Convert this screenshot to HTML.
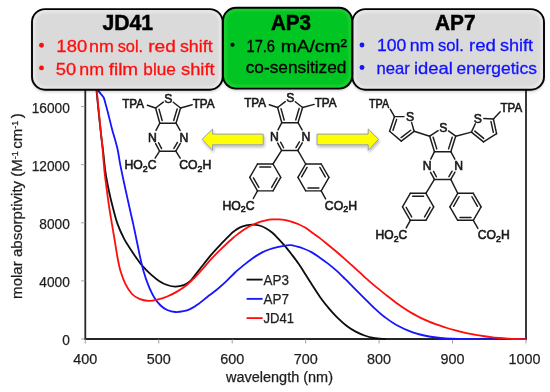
<!DOCTYPE html>
<html lang="en"><head><meta charset="utf-8"><title>Molar absorptivity of AP3, AP7 and JD41</title>
<style>html,body{margin:0;padding:0;background:#fff;}svg{display:block;}text{font-family:'Liberation Sans', Arial, sans-serif;}</style>
</head><body>
<svg width="550" height="392" viewBox="0 0 550 392">
<defs>
<filter id="sh" x="-20%" y="-20%" width="140%" height="150%"><feGaussianBlur in="SourceAlpha" stdDeviation="1.4"/><feOffset dx="0.6" dy="1.6"/><feComponentTransfer><feFuncA type="linear" slope="0.28"/></feComponentTransfer><feMerge><feMergeNode/><feMergeNode in="SourceGraphic"/></feMerge></filter>
<filter id="sh2" x="-5%" y="-10%" width="110%" height="130%"><feGaussianBlur in="SourceAlpha" stdDeviation="1.6"/><feOffset dx="0" dy="1.8"/><feComponentTransfer><feFuncA type="linear" slope="0.22"/></feComponentTransfer><feMerge><feMergeNode/><feMergeNode in="SourceGraphic"/></feMerge></filter>
<filter id="soft"><feGaussianBlur stdDeviation="0.35"/></filter>
<filter id="glow" x="-5%" y="-5%" width="110%" height="110%"><feGaussianBlur stdDeviation="1.3"/></filter>
<clipPath id="plot"><rect x="85" y="60" width="441.5" height="280"/></clipPath>
<clipPath id="cg1"><rect x="32" y="9.1" width="190.7" height="80.6" rx="13" ry="13"/></clipPath>
<clipPath id="cg2"><rect x="223" y="7.8" width="129.2" height="80.8" rx="13" ry="13"/></clipPath>
<clipPath id="cg3"><rect x="352.4" y="9.1" width="191.6" height="80.6" rx="13" ry="13"/></clipPath>
</defs>
<rect width="550" height="392" fill="#fff"/>
<g filter="url(#soft)">
<g stroke="#262626" stroke-width="1.8" fill="none">
<line x1="85.30" y1="60" x2="85.30" y2="339.90"/>
<line x1="84.40" y1="339.00" x2="526.90" y2="339.00"/>
<line x1="526.00" y1="60" x2="526.00" y2="339.90"/>
</g>
<g stroke="#8a8a8a" stroke-width="0.8">
<line x1="81.10" y1="339.00" x2="85.30" y2="339.00"/>
<line x1="81.10" y1="280.90" x2="85.30" y2="280.90"/>
<line x1="81.10" y1="222.80" x2="85.30" y2="222.80"/>
<line x1="81.10" y1="164.70" x2="85.30" y2="164.70"/>
<line x1="81.10" y1="106.60" x2="85.30" y2="106.60"/>
<line x1="85.30" y1="339.00" x2="85.30" y2="343.50"/>
<line x1="158.75" y1="339.00" x2="158.75" y2="343.50"/>
<line x1="232.20" y1="339.00" x2="232.20" y2="343.50"/>
<line x1="305.65" y1="339.00" x2="305.65" y2="343.50"/>
<line x1="379.10" y1="339.00" x2="379.10" y2="343.50"/>
<line x1="452.55" y1="339.00" x2="452.55" y2="343.50"/>
<line x1="526.00" y1="339.00" x2="526.00" y2="343.50"/>
</g>
<text x="62.18" y="345.10" font-size="15.30" text-anchor="start" fill="#1e1e1e" font-weight="normal" stroke="#1e1e1e" stroke-width="0.25" textLength="7.62" lengthAdjust="spacingAndGlyphs" >0</text>
<text x="39.32" y="287.00" font-size="15.30" text-anchor="start" fill="#1e1e1e" font-weight="normal" stroke="#1e1e1e" stroke-width="0.25" textLength="30.48" lengthAdjust="spacingAndGlyphs" >4000</text>
<text x="39.32" y="228.90" font-size="15.30" text-anchor="start" fill="#1e1e1e" font-weight="normal" stroke="#1e1e1e" stroke-width="0.25" textLength="30.48" lengthAdjust="spacingAndGlyphs" >8000</text>
<text x="31.70" y="170.80" font-size="15.30" text-anchor="start" fill="#1e1e1e" font-weight="normal" stroke="#1e1e1e" stroke-width="0.25" textLength="38.10" lengthAdjust="spacingAndGlyphs" >12000</text>
<text x="31.70" y="112.70" font-size="15.30" text-anchor="start" fill="#1e1e1e" font-weight="normal" stroke="#1e1e1e" stroke-width="0.25" textLength="38.10" lengthAdjust="spacingAndGlyphs" >16000</text>
<text x="73.30" y="364.30" font-size="15.30" text-anchor="start" fill="#1e1e1e" font-weight="normal" stroke="#1e1e1e" stroke-width="0.25" textLength="24.00" lengthAdjust="spacingAndGlyphs" >400</text>
<text x="146.75" y="364.30" font-size="15.30" text-anchor="start" fill="#1e1e1e" font-weight="normal" stroke="#1e1e1e" stroke-width="0.25" textLength="24.00" lengthAdjust="spacingAndGlyphs" >500</text>
<text x="220.20" y="364.30" font-size="15.30" text-anchor="start" fill="#1e1e1e" font-weight="normal" stroke="#1e1e1e" stroke-width="0.25" textLength="24.00" lengthAdjust="spacingAndGlyphs" >600</text>
<text x="293.65" y="364.30" font-size="15.30" text-anchor="start" fill="#1e1e1e" font-weight="normal" stroke="#1e1e1e" stroke-width="0.25" textLength="24.00" lengthAdjust="spacingAndGlyphs" >700</text>
<text x="367.10" y="364.30" font-size="15.30" text-anchor="start" fill="#1e1e1e" font-weight="normal" stroke="#1e1e1e" stroke-width="0.25" textLength="24.00" lengthAdjust="spacingAndGlyphs" >800</text>
<text x="440.55" y="364.30" font-size="15.30" text-anchor="start" fill="#1e1e1e" font-weight="normal" stroke="#1e1e1e" stroke-width="0.25" textLength="24.00" lengthAdjust="spacingAndGlyphs" >900</text>
<text x="508.50" y="364.30" font-size="15.30" text-anchor="start" fill="#1e1e1e" font-weight="normal" stroke="#1e1e1e" stroke-width="0.25" textLength="32.00" lengthAdjust="spacingAndGlyphs" >1000</text>
<text x="226.00" y="382.00" font-size="14.00" text-anchor="start" fill="#1e1e1e" font-weight="normal" stroke="#1e1e1e" stroke-width="0.25" textLength="107.00" lengthAdjust="spacingAndGlyphs" >wavelength (nm)</text>
<g transform="translate(22.1 298.9) rotate(-90)"><text x="0.00" y="0.00" font-size="14.30" text-anchor="start" fill="#1e1e1e" font-weight="normal" stroke="#1e1e1e" stroke-width="0.25" textLength="185.60" lengthAdjust="spacingAndGlyphs" >molar absorptivity (M<tspan font-size="8.6" dy="-4.4">-1</tspan><tspan dy="4.4" dx="2.2">cm</tspan><tspan font-size="8.6" dy="-4.4">-1</tspan><tspan dy="4.4" dx="2.2">)</tspan></text></g>
<g clip-path="url(#plot)" fill="none" stroke-linejoin="round" stroke-linecap="round">
<path d="M93.60 60.00 C94.08 65.08 95.65 81.75 96.50 90.50 C97.35 99.25 97.90 104.75 98.70 112.50 C99.50 120.25 100.58 130.75 101.30 137.00 C102.02 143.25 102.30 144.08 103.00 150.00 C103.70 155.92 104.47 165.47 105.50 172.50 C106.53 179.53 107.95 186.28 109.20 192.20 C110.45 198.12 111.58 202.63 113.00 208.00 C114.42 213.37 115.82 219.22 117.70 224.40 C119.58 229.58 121.83 234.47 124.30 239.10 C126.77 243.73 130.30 248.80 132.50 252.20 C134.70 255.60 135.82 257.17 137.50 259.50 C139.18 261.83 140.38 263.72 142.60 266.20 C144.82 268.68 148.07 271.95 150.80 274.40 C153.53 276.85 156.27 279.13 159.00 280.90 C161.73 282.67 164.47 284.05 167.20 285.00 C169.93 285.95 172.67 286.57 175.40 286.60 C178.13 286.63 181.15 286.08 183.60 285.20 C186.05 284.32 188.28 282.87 190.10 281.30 C191.92 279.73 192.85 277.87 194.50 275.80 C196.15 273.73 197.27 272.35 200.00 268.90 C202.73 265.45 207.27 259.38 210.90 255.10 C214.53 250.82 218.53 246.67 221.80 243.20 C225.07 239.73 228.30 236.40 230.50 234.30 C232.70 232.20 233.48 231.72 235.00 230.60 C236.52 229.48 237.73 228.47 239.60 227.60 C241.47 226.73 244.02 225.90 246.20 225.40 C248.38 224.90 250.52 224.58 252.70 224.60 C254.88 224.62 257.12 224.90 259.30 225.50 C261.48 226.10 263.62 226.98 265.80 228.20 C267.98 229.42 270.22 230.93 272.40 232.80 C274.58 234.67 276.72 237.08 278.90 239.40 C281.08 241.72 283.32 244.12 285.50 246.70 C287.68 249.28 289.82 252.07 292.00 254.90 C294.18 257.73 296.77 261.12 298.60 263.70 C300.43 266.28 300.92 267.13 303.00 270.40 C305.08 273.67 308.27 278.88 311.10 283.30 C313.93 287.72 317.03 292.72 320.00 296.90 C322.97 301.08 325.92 304.85 328.90 308.40 C331.88 311.95 334.92 315.27 337.90 318.20 C340.88 321.13 343.83 323.77 346.80 326.00 C349.77 328.23 352.73 330.02 355.70 331.60 C358.67 333.18 361.62 334.45 364.60 335.50 C367.58 336.55 370.20 337.32 373.60 337.90 C377.00 338.48 383.10 338.82 385.00 339.00" stroke="#0a0a0a" stroke-width="1.8"/>
<path d="M93.00 84.50 C93.43 85.00 94.73 86.48 95.60 87.50 C96.47 88.52 97.32 89.52 98.20 90.60 C99.08 91.68 100.05 92.93 100.90 94.00 C101.75 95.07 102.77 96.23 103.30 97.00 C103.83 97.77 103.78 97.67 104.10 98.60 C104.42 99.53 104.57 100.28 105.20 102.60 C105.83 104.92 106.77 108.12 107.90 112.50 C109.03 116.88 110.43 122.98 112.00 128.90 C113.57 134.82 115.93 142.08 117.30 148.00 C118.67 153.92 119.03 158.40 120.20 164.40 C121.37 170.40 122.73 176.73 124.30 184.00 C125.87 191.27 128.10 201.27 129.60 208.00 C131.10 214.73 132.00 218.40 133.30 224.40 C134.60 230.40 136.22 238.33 137.40 244.00 C138.58 249.67 139.38 253.88 140.40 258.40 C141.42 262.92 142.25 266.80 143.50 271.10 C144.75 275.40 146.13 279.83 147.90 284.20 C149.67 288.57 151.98 293.75 154.10 297.30 C156.22 300.85 158.42 303.38 160.60 305.50 C162.78 307.62 164.73 308.92 167.20 310.00 C169.67 311.08 172.67 311.80 175.40 312.00 C178.13 312.20 181.15 311.68 183.60 311.20 C186.05 310.72 187.63 310.30 190.10 309.10 C192.57 307.90 195.50 306.05 198.40 304.00 C201.30 301.95 204.45 299.17 207.50 296.80 C210.55 294.43 213.63 292.32 216.70 289.80 C219.77 287.28 222.83 284.58 225.90 281.70 C228.97 278.82 232.02 275.35 235.10 272.50 C238.18 269.65 241.47 266.98 244.40 264.60 C247.33 262.22 249.95 260.12 252.70 258.20 C255.45 256.28 258.17 254.55 260.90 253.10 C263.63 251.65 266.37 250.48 269.10 249.50 C271.83 248.52 274.57 247.85 277.30 247.20 C280.03 246.55 283.32 245.95 285.50 245.60 C287.68 245.25 288.57 244.97 290.40 245.10 C292.23 245.23 294.35 245.83 296.50 246.40 C298.65 246.97 300.82 247.55 303.30 248.50 C305.78 249.45 308.70 250.62 311.40 252.10 C314.10 253.58 316.78 255.52 319.50 257.40 C322.22 259.28 325.02 261.32 327.70 263.40 C330.38 265.48 332.72 267.32 335.60 269.90 C338.48 272.48 341.65 275.62 345.00 278.90 C348.35 282.18 352.13 286.02 355.70 289.60 C359.27 293.18 363.12 297.13 366.40 300.40 C369.68 303.67 372.30 306.38 375.40 309.20 C378.50 312.02 381.50 314.67 385.00 317.30 C388.50 319.93 391.78 322.48 396.40 325.00 C401.02 327.52 407.25 330.48 412.70 332.40 C418.15 334.32 423.63 335.48 429.10 336.50 C434.57 337.52 440.35 338.08 445.50 338.50 C450.65 338.92 450.92 338.90 460.00 339.00 C469.08 339.10 488.95 339.08 500.00 339.10 C511.05 339.12 521.92 339.10 526.30 339.10" stroke="#1414ff" stroke-width="1.8"/>
<path d="M94.20 60.00 C94.63 65.08 96.02 81.75 96.80 90.50 C97.58 99.25 98.13 104.73 98.90 112.50 C99.67 120.27 100.80 131.18 101.40 137.10 C102.00 143.02 101.97 142.10 102.50 148.00 C103.03 153.90 103.83 165.13 104.60 172.50 C105.37 179.87 106.32 186.28 107.10 192.20 C107.88 198.12 108.48 202.63 109.30 208.00 C110.12 213.37 111.00 218.40 112.00 224.40 C113.00 230.40 114.37 238.40 115.30 244.00 C116.23 249.60 116.73 253.48 117.60 258.00 C118.47 262.52 119.18 266.73 120.50 271.10 C121.82 275.47 123.58 280.38 125.50 284.20 C127.42 288.02 129.68 291.55 132.00 294.00 C134.32 296.45 136.67 297.75 139.40 298.90 C142.13 300.05 145.40 300.77 148.40 300.90 C151.40 301.03 154.27 300.43 157.40 299.70 C160.53 298.97 163.93 297.85 167.20 296.50 C170.47 295.15 173.73 293.52 177.00 291.60 C180.27 289.68 183.88 287.30 186.80 285.00 C189.72 282.70 191.93 280.38 194.50 277.80 C197.07 275.22 199.47 272.58 202.20 269.50 C204.93 266.42 207.63 262.83 210.90 259.30 C214.17 255.77 218.17 251.82 221.80 248.30 C225.43 244.78 229.73 240.78 232.70 238.20 C235.67 235.62 237.35 234.47 239.60 232.80 C241.85 231.13 244.02 229.53 246.20 228.20 C248.38 226.87 250.52 225.82 252.70 224.80 C254.88 223.78 257.12 222.85 259.30 222.10 C261.48 221.35 263.62 220.75 265.80 220.30 C267.98 219.85 270.22 219.55 272.40 219.40 C274.58 219.25 276.72 219.27 278.90 219.40 C281.08 219.53 283.32 219.80 285.50 220.20 C287.68 220.60 289.82 221.13 292.00 221.80 C294.18 222.47 296.42 223.23 298.60 224.20 C300.78 225.17 302.97 226.30 305.10 227.60 C307.23 228.90 309.00 230.28 311.40 232.00 C313.80 233.72 316.78 235.82 319.50 237.90 C322.22 239.98 324.97 242.27 327.70 244.50 C330.43 246.73 333.17 248.98 335.90 251.30 C338.63 253.62 341.37 256.00 344.10 258.40 C346.83 260.80 349.57 263.25 352.30 265.70 C355.03 268.15 358.15 270.95 360.50 273.10 C362.85 275.25 363.92 276.38 366.40 278.60 C368.88 280.82 372.30 283.82 375.40 286.40 C378.50 288.98 381.50 291.35 385.00 294.10 C388.50 296.85 391.78 299.65 396.40 302.90 C401.02 306.15 407.25 310.47 412.70 313.60 C418.15 316.73 423.63 319.38 429.10 321.70 C434.57 324.02 440.65 325.93 445.50 327.50 C450.35 329.07 454.72 330.17 458.20 331.10 C461.68 332.03 463.68 332.50 466.40 333.10 C469.12 333.70 471.78 334.22 474.50 334.70 C477.22 335.18 479.97 335.58 482.70 336.00 C485.43 336.42 488.17 336.87 490.90 337.20 C493.63 337.53 496.37 337.77 499.10 338.00 C501.83 338.23 504.57 338.43 507.30 338.60 C510.03 338.77 512.33 338.92 515.50 339.00 C518.67 339.08 524.50 339.08 526.30 339.10" stroke="#ff0a0a" stroke-width="1.8"/>
</g>
<line x1="246.6" y1="279.60" x2="262.6" y2="279.60" stroke="#0a0a0a" stroke-width="1.8"/>
<text x="263.60" y="284.80" font-size="14.20" text-anchor="start" fill="#1e1e1e" font-weight="normal" stroke="#1e1e1e" stroke-width="0.25" textLength="25.40" lengthAdjust="spacingAndGlyphs" >AP3</text>
<line x1="246.6" y1="298.85" x2="262.6" y2="298.85" stroke="#1414ff" stroke-width="1.8"/>
<text x="263.60" y="304.05" font-size="14.20" text-anchor="start" fill="#1e1e1e" font-weight="normal" stroke="#1e1e1e" stroke-width="0.25" textLength="25.40" lengthAdjust="spacingAndGlyphs" >AP7</text>
<line x1="246.6" y1="318.10" x2="262.6" y2="318.10" stroke="#ff0a0a" stroke-width="1.8"/>
<text x="263.60" y="323.30" font-size="14.20" text-anchor="start" fill="#1e1e1e" font-weight="normal" stroke="#1e1e1e" stroke-width="0.25" textLength="30.40" lengthAdjust="spacingAndGlyphs" >JD41</text>
<g>
<line x1="163.29" y1="102.12" x2="155.60" y2="108.00" stroke="#1c1c1c" stroke-width="1.45" stroke-linecap="round"/>
<line x1="173.25" y1="102.20" x2="180.60" y2="108.00" stroke="#1c1c1c" stroke-width="1.45" stroke-linecap="round"/>
<line x1="155.60" y1="108.00" x2="159.80" y2="123.20" stroke="#1c1c1c" stroke-width="1.45" stroke-linecap="round"/>
<line x1="180.60" y1="108.00" x2="176.00" y2="123.20" stroke="#1c1c1c" stroke-width="1.45" stroke-linecap="round"/>
<line x1="159.80" y1="123.20" x2="176.00" y2="123.20" stroke="#1c1c1c" stroke-width="1.45" stroke-linecap="round"/>
<line x1="159.02" y1="109.13" x2="162.16" y2="120.47" stroke="#1c1c1c" stroke-width="1.45" stroke-linecap="round"/>
<line x1="177.15" y1="109.05" x2="173.71" y2="120.42" stroke="#1c1c1c" stroke-width="1.45" stroke-linecap="round"/>
<line x1="159.80" y1="123.20" x2="155.98" y2="130.32" stroke="#1c1c1c" stroke-width="1.45" stroke-linecap="round"/>
<line x1="176.00" y1="123.20" x2="180.13" y2="130.43" stroke="#1c1c1c" stroke-width="1.45" stroke-linecap="round"/>
<line x1="155.63" y1="143.58" x2="159.60" y2="151.20" stroke="#1c1c1c" stroke-width="1.45" stroke-linecap="round"/>
<line x1="180.36" y1="143.41" x2="175.80" y2="151.20" stroke="#1c1c1c" stroke-width="1.45" stroke-linecap="round"/>
<line x1="159.60" y1="151.20" x2="175.80" y2="151.20" stroke="#1c1c1c" stroke-width="1.45" stroke-linecap="round"/>
<line x1="158.57" y1="142.73" x2="161.61" y2="148.57" stroke="#1c1c1c" stroke-width="1.45" stroke-linecap="round"/>
<line x1="177.47" y1="142.41" x2="173.92" y2="148.48" stroke="#1c1c1c" stroke-width="1.45" stroke-linecap="round"/>
<text x="168.30" y="102.60" font-size="12.20" text-anchor="middle" fill="#1a1a1a" font-weight="normal" stroke="#1a1a1a" stroke-width="0.60" >S</text>
<text x="152.30" y="141.50" font-size="12.20" text-anchor="middle" fill="#1a1a1a" font-weight="normal" stroke="#1a1a1a" stroke-width="0.60" >N</text>
<text x="184.00" y="141.50" font-size="12.20" text-anchor="middle" fill="#1a1a1a" font-weight="normal" stroke="#1a1a1a" stroke-width="0.60" >N</text>
<line x1="155.60" y1="108.00" x2="147.30" y2="105.20" stroke="#1c1c1c" stroke-width="1.45" stroke-linecap="round"/>
<line x1="180.60" y1="108.00" x2="192.20" y2="104.80" stroke="#1c1c1c" stroke-width="1.45" stroke-linecap="round"/>
<line x1="159.60" y1="151.20" x2="155.10" y2="158.20" stroke="#1c1c1c" stroke-width="1.45" stroke-linecap="round"/>
<line x1="175.80" y1="151.20" x2="180.20" y2="158.20" stroke="#1c1c1c" stroke-width="1.45" stroke-linecap="round"/>
<text x="122.16" y="107.50" font-size="12.20" text-anchor="start" fill="#1a1a1a" font-weight="normal" stroke="#1a1a1a" stroke-width="0.60" textLength="21.84" lengthAdjust="spacingAndGlyphs" >TPA</text>
<text x="192.66" y="107.50" font-size="12.20" text-anchor="start" fill="#1a1a1a" font-weight="normal" stroke="#1a1a1a" stroke-width="0.60" textLength="21.94" lengthAdjust="spacingAndGlyphs" >TPA</text>
<text x="124.47" y="169.40" font-size="12.20" text-anchor="start" fill="#1a1a1a" font-weight="normal" stroke="#1a1a1a" stroke-width="0.60" textLength="32.06" lengthAdjust="spacingAndGlyphs" >HO<tspan font-size="8.8" dy="2.6">2</tspan><tspan dy="-2.6">C</tspan></text>
<text x="179.27" y="169.40" font-size="12.20" text-anchor="start" fill="#1a1a1a" font-weight="normal" stroke="#1a1a1a" stroke-width="0.60" textLength="32.06" lengthAdjust="spacingAndGlyphs" >CO<tspan font-size="8.8" dy="2.6">2</tspan><tspan dy="-2.6">H</tspan></text>
<line x1="285.29" y1="101.62" x2="277.60" y2="107.50" stroke="#1c1c1c" stroke-width="1.45" stroke-linecap="round"/>
<line x1="295.25" y1="101.70" x2="302.60" y2="107.50" stroke="#1c1c1c" stroke-width="1.45" stroke-linecap="round"/>
<line x1="277.60" y1="107.50" x2="281.80" y2="122.70" stroke="#1c1c1c" stroke-width="1.45" stroke-linecap="round"/>
<line x1="302.60" y1="107.50" x2="298.00" y2="122.70" stroke="#1c1c1c" stroke-width="1.45" stroke-linecap="round"/>
<line x1="281.80" y1="122.70" x2="298.00" y2="122.70" stroke="#1c1c1c" stroke-width="1.45" stroke-linecap="round"/>
<line x1="281.02" y1="108.63" x2="284.16" y2="119.97" stroke="#1c1c1c" stroke-width="1.45" stroke-linecap="round"/>
<line x1="299.15" y1="108.55" x2="295.71" y2="119.92" stroke="#1c1c1c" stroke-width="1.45" stroke-linecap="round"/>
<line x1="281.80" y1="122.70" x2="277.98" y2="129.82" stroke="#1c1c1c" stroke-width="1.45" stroke-linecap="round"/>
<line x1="298.00" y1="122.70" x2="302.13" y2="129.93" stroke="#1c1c1c" stroke-width="1.45" stroke-linecap="round"/>
<line x1="277.69" y1="143.05" x2="281.60" y2="150.40" stroke="#1c1c1c" stroke-width="1.45" stroke-linecap="round"/>
<line x1="302.30" y1="142.88" x2="297.80" y2="150.40" stroke="#1c1c1c" stroke-width="1.45" stroke-linecap="round"/>
<line x1="281.60" y1="150.40" x2="297.80" y2="150.40" stroke="#1c1c1c" stroke-width="1.45" stroke-linecap="round"/>
<line x1="280.62" y1="142.17" x2="283.59" y2="147.75" stroke="#1c1c1c" stroke-width="1.45" stroke-linecap="round"/>
<line x1="299.42" y1="141.85" x2="295.94" y2="147.66" stroke="#1c1c1c" stroke-width="1.45" stroke-linecap="round"/>
<text x="290.30" y="102.10" font-size="12.20" text-anchor="middle" fill="#1a1a1a" font-weight="normal" stroke="#1a1a1a" stroke-width="0.60" >S</text>
<text x="274.30" y="141.00" font-size="12.20" text-anchor="middle" fill="#1a1a1a" font-weight="normal" stroke="#1a1a1a" stroke-width="0.60" >N</text>
<text x="306.00" y="141.00" font-size="12.20" text-anchor="middle" fill="#1a1a1a" font-weight="normal" stroke="#1a1a1a" stroke-width="0.60" >N</text>
<line x1="277.60" y1="107.50" x2="269.30" y2="104.80" stroke="#1c1c1c" stroke-width="1.45" stroke-linecap="round"/>
<line x1="302.60" y1="107.50" x2="314.20" y2="104.40" stroke="#1c1c1c" stroke-width="1.45" stroke-linecap="round"/>
<text x="244.16" y="107.10" font-size="12.20" text-anchor="start" fill="#1a1a1a" font-weight="normal" stroke="#1a1a1a" stroke-width="0.60" textLength="21.84" lengthAdjust="spacingAndGlyphs" >TPA</text>
<text x="314.66" y="107.10" font-size="12.20" text-anchor="start" fill="#1a1a1a" font-weight="normal" stroke="#1a1a1a" stroke-width="0.60" textLength="21.94" lengthAdjust="spacingAndGlyphs" >TPA</text>
<line x1="257.50" y1="164.00" x2="273.00" y2="164.00" stroke="#1c1c1c" stroke-width="1.45" stroke-linecap="round"/>
<line x1="273.00" y1="164.00" x2="280.75" y2="177.42" stroke="#1c1c1c" stroke-width="1.45" stroke-linecap="round"/>
<line x1="280.75" y1="177.42" x2="273.00" y2="190.85" stroke="#1c1c1c" stroke-width="1.45" stroke-linecap="round"/>
<line x1="273.00" y1="190.85" x2="257.50" y2="190.85" stroke="#1c1c1c" stroke-width="1.45" stroke-linecap="round"/>
<line x1="257.50" y1="190.85" x2="249.75" y2="177.42" stroke="#1c1c1c" stroke-width="1.45" stroke-linecap="round"/>
<line x1="249.75" y1="177.42" x2="257.50" y2="164.00" stroke="#1c1c1c" stroke-width="1.45" stroke-linecap="round"/>
<line x1="259.80" y1="166.90" x2="270.70" y2="166.90" stroke="#1c1c1c" stroke-width="1.45" stroke-linecap="round"/>
<line x1="277.09" y1="177.97" x2="271.64" y2="187.40" stroke="#1c1c1c" stroke-width="1.45" stroke-linecap="round"/>
<line x1="258.86" y1="187.40" x2="253.41" y2="177.97" stroke="#1c1c1c" stroke-width="1.45" stroke-linecap="round"/>
<line x1="281.60" y1="150.40" x2="273.00" y2="164.00" stroke="#1c1c1c" stroke-width="1.45" stroke-linecap="round"/>
<line x1="257.50" y1="190.85" x2="253.30" y2="198.50" stroke="#1c1c1c" stroke-width="1.45" stroke-linecap="round"/>
<line x1="305.70" y1="164.00" x2="321.20" y2="164.00" stroke="#1c1c1c" stroke-width="1.45" stroke-linecap="round"/>
<line x1="321.20" y1="164.00" x2="328.95" y2="177.42" stroke="#1c1c1c" stroke-width="1.45" stroke-linecap="round"/>
<line x1="328.95" y1="177.42" x2="321.20" y2="190.85" stroke="#1c1c1c" stroke-width="1.45" stroke-linecap="round"/>
<line x1="321.20" y1="190.85" x2="305.70" y2="190.85" stroke="#1c1c1c" stroke-width="1.45" stroke-linecap="round"/>
<line x1="305.70" y1="190.85" x2="297.95" y2="177.42" stroke="#1c1c1c" stroke-width="1.45" stroke-linecap="round"/>
<line x1="297.95" y1="177.42" x2="305.70" y2="164.00" stroke="#1c1c1c" stroke-width="1.45" stroke-linecap="round"/>
<line x1="319.84" y1="167.44" x2="325.29" y2="176.88" stroke="#1c1c1c" stroke-width="1.45" stroke-linecap="round"/>
<line x1="318.90" y1="187.95" x2="308.00" y2="187.95" stroke="#1c1c1c" stroke-width="1.45" stroke-linecap="round"/>
<line x1="301.61" y1="176.88" x2="307.06" y2="167.44" stroke="#1c1c1c" stroke-width="1.45" stroke-linecap="round"/>
<line x1="297.80" y1="150.40" x2="305.70" y2="164.00" stroke="#1c1c1c" stroke-width="1.45" stroke-linecap="round"/>
<line x1="321.20" y1="190.85" x2="325.60" y2="198.90" stroke="#1c1c1c" stroke-width="1.45" stroke-linecap="round"/>
<text x="222.47" y="209.80" font-size="12.20" text-anchor="start" fill="#1a1a1a" font-weight="normal" stroke="#1a1a1a" stroke-width="0.60" textLength="32.06" lengthAdjust="spacingAndGlyphs" >HO<tspan font-size="8.8" dy="2.6">2</tspan><tspan dy="-2.6">C</tspan></text>
<text x="324.87" y="209.80" font-size="12.20" text-anchor="start" fill="#1a1a1a" font-weight="normal" stroke="#1a1a1a" stroke-width="0.60" textLength="32.26" lengthAdjust="spacingAndGlyphs" >CO<tspan font-size="8.8" dy="2.6">2</tspan><tspan dy="-2.6">H</tspan></text>
<line x1="438.13" y1="130.66" x2="429.70" y2="136.20" stroke="#1c1c1c" stroke-width="1.45" stroke-linecap="round"/>
<line x1="448.48" y1="130.92" x2="455.70" y2="136.20" stroke="#1c1c1c" stroke-width="1.45" stroke-linecap="round"/>
<line x1="429.70" y1="136.20" x2="434.50" y2="151.70" stroke="#1c1c1c" stroke-width="1.45" stroke-linecap="round"/>
<line x1="455.70" y1="136.20" x2="450.80" y2="151.70" stroke="#1c1c1c" stroke-width="1.45" stroke-linecap="round"/>
<line x1="434.50" y1="151.70" x2="450.80" y2="151.70" stroke="#1c1c1c" stroke-width="1.45" stroke-linecap="round"/>
<line x1="433.16" y1="137.22" x2="436.77" y2="148.90" stroke="#1c1c1c" stroke-width="1.45" stroke-linecap="round"/>
<line x1="452.24" y1="137.20" x2="448.54" y2="148.89" stroke="#1c1c1c" stroke-width="1.45" stroke-linecap="round"/>
<line x1="434.50" y1="151.70" x2="430.75" y2="159.05" stroke="#1c1c1c" stroke-width="1.45" stroke-linecap="round"/>
<line x1="450.80" y1="151.70" x2="454.86" y2="159.15" stroke="#1c1c1c" stroke-width="1.45" stroke-linecap="round"/>
<line x1="430.61" y1="172.34" x2="434.40" y2="179.40" stroke="#1c1c1c" stroke-width="1.45" stroke-linecap="round"/>
<line x1="454.98" y1="172.22" x2="450.80" y2="179.40" stroke="#1c1c1c" stroke-width="1.45" stroke-linecap="round"/>
<line x1="434.40" y1="179.40" x2="450.80" y2="179.40" stroke="#1c1c1c" stroke-width="1.45" stroke-linecap="round"/>
<line x1="433.53" y1="171.45" x2="436.38" y2="176.75" stroke="#1c1c1c" stroke-width="1.45" stroke-linecap="round"/>
<line x1="452.08" y1="171.23" x2="448.91" y2="176.68" stroke="#1c1c1c" stroke-width="1.45" stroke-linecap="round"/>
<text x="443.40" y="131.50" font-size="12.20" text-anchor="middle" fill="#1a1a1a" font-weight="normal" stroke="#1a1a1a" stroke-width="0.60" >S</text>
<text x="427.20" y="170.30" font-size="12.20" text-anchor="middle" fill="#1a1a1a" font-weight="normal" stroke="#1a1a1a" stroke-width="0.60" >N</text>
<text x="458.60" y="170.30" font-size="12.20" text-anchor="middle" fill="#1a1a1a" font-weight="normal" stroke="#1a1a1a" stroke-width="0.60" >N</text>
<line x1="411.61" y1="122.38" x2="414.10" y2="131.30" stroke="#1c1c1c" stroke-width="1.45" stroke-linecap="round"/>
<line x1="404.00" y1="116.60" x2="394.50" y2="116.60" stroke="#1c1c1c" stroke-width="1.45" stroke-linecap="round"/>
<line x1="414.10" y1="131.30" x2="401.30" y2="141.10" stroke="#1c1c1c" stroke-width="1.45" stroke-linecap="round"/>
<line x1="401.30" y1="141.10" x2="389.60" y2="131.30" stroke="#1c1c1c" stroke-width="1.45" stroke-linecap="round"/>
<line x1="389.60" y1="131.30" x2="394.50" y2="116.60" stroke="#1c1c1c" stroke-width="1.45" stroke-linecap="round"/>
<line x1="410.75" y1="130.21" x2="401.13" y2="137.58" stroke="#1c1c1c" stroke-width="1.45" stroke-linecap="round"/>
<line x1="392.98" y1="130.32" x2="396.62" y2="119.41" stroke="#1c1c1c" stroke-width="1.45" stroke-linecap="round"/>
<text x="410.00" y="120.90" font-size="12.20" text-anchor="middle" fill="#1a1a1a" font-weight="normal" stroke="#1a1a1a" stroke-width="0.60" >S</text>
<line x1="414.10" y1="131.30" x2="429.70" y2="136.20" stroke="#1c1c1c" stroke-width="1.45" stroke-linecap="round"/>
<line x1="394.50" y1="116.60" x2="390.30" y2="109.30" stroke="#1c1c1c" stroke-width="1.45" stroke-linecap="round"/>
<text x="368.96" y="107.60" font-size="12.20" text-anchor="start" fill="#1a1a1a" font-weight="normal" stroke="#1a1a1a" stroke-width="0.60" textLength="20.24" lengthAdjust="spacingAndGlyphs" >TPA</text>
<line x1="475.28" y1="123.74" x2="471.40" y2="132.10" stroke="#1c1c1c" stroke-width="1.45" stroke-linecap="round"/>
<line x1="483.79" y1="118.57" x2="493.40" y2="119.00" stroke="#1c1c1c" stroke-width="1.45" stroke-linecap="round"/>
<line x1="471.40" y1="132.10" x2="483.50" y2="141.90" stroke="#1c1c1c" stroke-width="1.45" stroke-linecap="round"/>
<line x1="483.50" y1="141.90" x2="496.60" y2="133.70" stroke="#1c1c1c" stroke-width="1.45" stroke-linecap="round"/>
<line x1="496.60" y1="133.70" x2="493.40" y2="119.00" stroke="#1c1c1c" stroke-width="1.45" stroke-linecap="round"/>
<line x1="474.78" y1="131.11" x2="483.77" y2="138.39" stroke="#1c1c1c" stroke-width="1.45" stroke-linecap="round"/>
<line x1="493.34" y1="132.36" x2="490.99" y2="121.57" stroke="#1c1c1c" stroke-width="1.45" stroke-linecap="round"/>
<text x="477.80" y="122.60" font-size="12.20" text-anchor="middle" fill="#1a1a1a" font-weight="normal" stroke="#1a1a1a" stroke-width="0.60" >S</text>
<line x1="471.40" y1="132.10" x2="455.70" y2="136.20" stroke="#1c1c1c" stroke-width="1.45" stroke-linecap="round"/>
<line x1="493.40" y1="119.00" x2="500.20" y2="111.80" stroke="#1c1c1c" stroke-width="1.45" stroke-linecap="round"/>
<text x="500.56" y="112.30" font-size="12.20" text-anchor="start" fill="#1a1a1a" font-weight="normal" stroke="#1a1a1a" stroke-width="0.60" textLength="21.64" lengthAdjust="spacingAndGlyphs" >TPA</text>
<line x1="410.30" y1="193.30" x2="425.90" y2="193.30" stroke="#1c1c1c" stroke-width="1.45" stroke-linecap="round"/>
<line x1="425.90" y1="193.30" x2="433.70" y2="206.81" stroke="#1c1c1c" stroke-width="1.45" stroke-linecap="round"/>
<line x1="433.70" y1="206.81" x2="425.90" y2="220.32" stroke="#1c1c1c" stroke-width="1.45" stroke-linecap="round"/>
<line x1="425.90" y1="220.32" x2="410.30" y2="220.32" stroke="#1c1c1c" stroke-width="1.45" stroke-linecap="round"/>
<line x1="410.30" y1="220.32" x2="402.50" y2="206.81" stroke="#1c1c1c" stroke-width="1.45" stroke-linecap="round"/>
<line x1="402.50" y1="206.81" x2="410.30" y2="193.30" stroke="#1c1c1c" stroke-width="1.45" stroke-linecap="round"/>
<line x1="412.60" y1="196.20" x2="423.60" y2="196.20" stroke="#1c1c1c" stroke-width="1.45" stroke-linecap="round"/>
<line x1="430.04" y1="207.35" x2="424.54" y2="216.88" stroke="#1c1c1c" stroke-width="1.45" stroke-linecap="round"/>
<line x1="411.66" y1="216.88" x2="406.16" y2="207.35" stroke="#1c1c1c" stroke-width="1.45" stroke-linecap="round"/>
<line x1="434.40" y1="179.40" x2="425.90" y2="193.30" stroke="#1c1c1c" stroke-width="1.45" stroke-linecap="round"/>
<line x1="410.30" y1="220.32" x2="406.20" y2="227.90" stroke="#1c1c1c" stroke-width="1.45" stroke-linecap="round"/>
<line x1="457.70" y1="193.30" x2="473.30" y2="193.30" stroke="#1c1c1c" stroke-width="1.45" stroke-linecap="round"/>
<line x1="473.30" y1="193.30" x2="481.10" y2="206.81" stroke="#1c1c1c" stroke-width="1.45" stroke-linecap="round"/>
<line x1="481.10" y1="206.81" x2="473.30" y2="220.32" stroke="#1c1c1c" stroke-width="1.45" stroke-linecap="round"/>
<line x1="473.30" y1="220.32" x2="457.70" y2="220.32" stroke="#1c1c1c" stroke-width="1.45" stroke-linecap="round"/>
<line x1="457.70" y1="220.32" x2="449.90" y2="206.81" stroke="#1c1c1c" stroke-width="1.45" stroke-linecap="round"/>
<line x1="449.90" y1="206.81" x2="457.70" y2="193.30" stroke="#1c1c1c" stroke-width="1.45" stroke-linecap="round"/>
<line x1="471.94" y1="196.74" x2="477.44" y2="206.27" stroke="#1c1c1c" stroke-width="1.45" stroke-linecap="round"/>
<line x1="471.00" y1="217.42" x2="460.00" y2="217.42" stroke="#1c1c1c" stroke-width="1.45" stroke-linecap="round"/>
<line x1="453.56" y1="206.27" x2="459.06" y2="196.74" stroke="#1c1c1c" stroke-width="1.45" stroke-linecap="round"/>
<line x1="450.80" y1="179.40" x2="457.70" y2="193.30" stroke="#1c1c1c" stroke-width="1.45" stroke-linecap="round"/>
<line x1="473.30" y1="220.32" x2="477.90" y2="228.40" stroke="#1c1c1c" stroke-width="1.45" stroke-linecap="round"/>
<text x="375.57" y="239.30" font-size="12.20" text-anchor="start" fill="#1a1a1a" font-weight="normal" stroke="#1a1a1a" stroke-width="0.60" textLength="31.66" lengthAdjust="spacingAndGlyphs" >HO<tspan font-size="8.8" dy="2.6">2</tspan><tspan dy="-2.6">C</tspan></text>
<text x="477.77" y="239.30" font-size="12.20" text-anchor="start" fill="#1a1a1a" font-weight="normal" stroke="#1a1a1a" stroke-width="0.60" textLength="31.96" lengthAdjust="spacingAndGlyphs" >CO<tspan font-size="8.8" dy="2.6">2</tspan><tspan dy="-2.6">H</tspan></text>
</g>
<g filter="url(#sh)" fill="#ffff00" stroke="#8793c8" stroke-width="0.9" stroke-linejoin="miter">
<path d="M202.0 139.3 L212.6 129.0 L212.6 134.1 L263.2 134.1 L263.2 144.8 L212.6 144.8 L212.6 150.3 Z"/>
<path d="M378.6 139.3 L368.2 129.0 L368.2 134.1 L317.0 134.1 L317.0 144.8 L368.2 144.8 L368.2 150.3 Z"/>
</g>
<g filter="url(#sh2)"><rect x="32.00" y="9.10" width="190.70" height="80.60" rx="13" ry="13" fill="#dadada"/></g><g clip-path="url(#cg1)"><rect x="34.20" y="11.30" width="186.30" height="76.20" rx="11.2" ry="11.2" fill="none" stroke="#ececec" stroke-width="2.2" filter="url(#glow)"/></g><rect x="32.00" y="9.10" width="190.70" height="80.60" rx="13" ry="13" fill="none" stroke="#050505" stroke-width="1.9"/>
<g filter="url(#sh2)"><rect x="352.40" y="9.10" width="191.60" height="80.60" rx="13" ry="13" fill="#dadada"/></g><g clip-path="url(#cg3)"><rect x="354.60" y="11.30" width="187.20" height="76.20" rx="11.2" ry="11.2" fill="none" stroke="#ececec" stroke-width="2.2" filter="url(#glow)"/></g><rect x="352.40" y="9.10" width="191.60" height="80.60" rx="13" ry="13" fill="none" stroke="#050505" stroke-width="1.9"/>
<g filter="url(#sh2)"><rect x="223.00" y="7.80" width="129.20" height="80.80" rx="13" ry="13" fill="#05c520"/></g><g clip-path="url(#cg2)"><rect x="225.20" y="10.00" width="124.80" height="76.40" rx="11.2" ry="11.2" fill="none" stroke="#22d238" stroke-width="2.2" filter="url(#glow)"/></g><rect x="223.00" y="7.80" width="129.20" height="80.80" rx="13" ry="13" fill="none" stroke="#050505" stroke-width="1.9"/>
<text x="102.46" y="29.70" font-size="22.20" text-anchor="start" fill="#000" font-weight="bold" stroke="#000" stroke-width="0.50" textLength="50.70" lengthAdjust="spacingAndGlyphs" >JD41</text>
<text x="270.90" y="29.70" font-size="22.20" text-anchor="start" fill="#000" font-weight="bold" stroke="#000" stroke-width="0.50" textLength="39.99" lengthAdjust="spacingAndGlyphs" >AP3</text>
<text x="435.00" y="29.70" font-size="22.20" text-anchor="start" fill="#000" font-weight="bold" stroke="#000" stroke-width="0.50" textLength="40.59" lengthAdjust="spacingAndGlyphs" >AP7</text>
<circle cx="41.5" cy="45.3" r="2.45" fill="#ff1010"/>
<circle cx="41.5" cy="67.9" r="2.45" fill="#ff1010"/>
<text x="56.38" y="51.60" font-size="17.00" text-anchor="start" fill="#ff1010" font-weight="normal" stroke="#ff1010" stroke-width="0.30" textLength="30.77" lengthAdjust="spacingAndGlyphs" >180</text>
<text x="89.08" y="51.60" font-size="17.00" text-anchor="start" fill="#ff1010" font-weight="normal" stroke="#ff1010" stroke-width="0.30" textLength="24.77" lengthAdjust="spacingAndGlyphs" >nm</text>
<text x="117.68" y="51.60" font-size="17.00" text-anchor="start" fill="#ff1010" font-weight="normal" stroke="#ff1010" stroke-width="0.30" textLength="25.47" lengthAdjust="spacingAndGlyphs" >sol.</text>
<text x="148.28" y="51.60" font-size="17.00" text-anchor="start" fill="#ff1010" font-weight="normal" stroke="#ff1010" stroke-width="0.30" textLength="27.57" lengthAdjust="spacingAndGlyphs" >red</text>
<text x="179.98" y="51.60" font-size="17.00" text-anchor="start" fill="#ff1010" font-weight="normal" stroke="#ff1010" stroke-width="0.30" textLength="32.67" lengthAdjust="spacingAndGlyphs" >shift</text>
<text x="55.88" y="74.60" font-size="17.00" text-anchor="start" fill="#ff1010" font-weight="normal" stroke="#ff1010" stroke-width="0.30" textLength="20.37" lengthAdjust="spacingAndGlyphs" >50</text>
<text x="79.28" y="74.60" font-size="17.00" text-anchor="start" fill="#ff1010" font-weight="normal" stroke="#ff1010" stroke-width="0.30" textLength="24.77" lengthAdjust="spacingAndGlyphs" >nm</text>
<text x="108.68" y="74.60" font-size="17.00" text-anchor="start" fill="#ff1010" font-weight="normal" stroke="#ff1010" stroke-width="0.30" textLength="29.47" lengthAdjust="spacingAndGlyphs" >film</text>
<text x="143.38" y="74.60" font-size="17.00" text-anchor="start" fill="#ff1010" font-weight="normal" stroke="#ff1010" stroke-width="0.30" textLength="32.47" lengthAdjust="spacingAndGlyphs" >blue</text>
<text x="180.98" y="74.60" font-size="17.00" text-anchor="start" fill="#ff1010" font-weight="normal" stroke="#ff1010" stroke-width="0.30" textLength="33.67" lengthAdjust="spacingAndGlyphs" >shift</text>
<circle cx="232.5" cy="44.8" r="2.05" fill="#000"/>
<text x="246.48" y="52.30" font-size="17.00" text-anchor="start" fill="#000" font-weight="normal" stroke="#000" stroke-width="0.30" textLength="28.57" lengthAdjust="spacingAndGlyphs" >17.6</text>
<text x="280.68" y="52.30" font-size="17.00" text-anchor="start" fill="#000" font-weight="normal" stroke="#000" stroke-width="0.30" textLength="66.17" lengthAdjust="spacingAndGlyphs" >mA/cm²</text>
<text x="245.68" y="73.30" font-size="17.00" text-anchor="start" fill="#000" font-weight="normal" stroke="#000" stroke-width="0.30" textLength="100.77" lengthAdjust="spacingAndGlyphs" >co-sensitized</text>
<circle cx="362.0" cy="45.0" r="2.45" fill="#1212ff"/>
<circle cx="362.0" cy="67.5" r="2.45" fill="#1212ff"/>
<text x="376.98" y="51.20" font-size="17.00" text-anchor="start" fill="#1212ff" font-weight="normal" stroke="#1212ff" stroke-width="0.30" textLength="29.37" lengthAdjust="spacingAndGlyphs" >100</text>
<text x="409.78" y="51.20" font-size="17.00" text-anchor="start" fill="#1212ff" font-weight="normal" stroke="#1212ff" stroke-width="0.30" textLength="24.57" lengthAdjust="spacingAndGlyphs" >nm</text>
<text x="437.98" y="51.20" font-size="17.00" text-anchor="start" fill="#1212ff" font-weight="normal" stroke="#1212ff" stroke-width="0.30" textLength="25.87" lengthAdjust="spacingAndGlyphs" >sol.</text>
<text x="468.98" y="51.20" font-size="17.00" text-anchor="start" fill="#1212ff" font-weight="normal" stroke="#1212ff" stroke-width="0.30" textLength="26.87" lengthAdjust="spacingAndGlyphs" >red</text>
<text x="499.98" y="51.20" font-size="17.00" text-anchor="start" fill="#1212ff" font-weight="normal" stroke="#1212ff" stroke-width="0.30" textLength="33.17" lengthAdjust="spacingAndGlyphs" >shift</text>
<text x="376.48" y="74.00" font-size="17.00" text-anchor="start" fill="#1212ff" font-weight="normal" stroke="#1212ff" stroke-width="0.30" textLength="33.37" lengthAdjust="spacingAndGlyphs" >near</text>
<text x="413.98" y="74.00" font-size="17.00" text-anchor="start" fill="#1212ff" font-weight="normal" stroke="#1212ff" stroke-width="0.30" textLength="38.87" lengthAdjust="spacingAndGlyphs" >ideal</text>
<text x="456.48" y="74.00" font-size="17.00" text-anchor="start" fill="#1212ff" font-weight="normal" stroke="#1212ff" stroke-width="0.30" textLength="80.37" lengthAdjust="spacingAndGlyphs" >energetics</text>
</g>
</svg>
</body></html>
